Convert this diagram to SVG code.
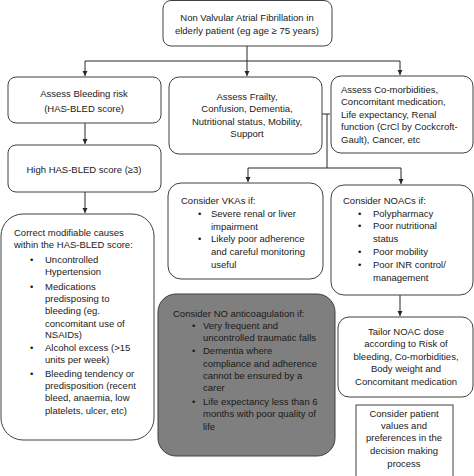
<svg xmlns="http://www.w3.org/2000/svg" width="474" height="476" viewBox="0 0 474 476">
<defs>
<marker id="ah" markerWidth="6" markerHeight="6" refX="5" refY="3" orient="auto" markerUnits="userSpaceOnUse">
<path d="M0,0.5 L5,3 L0,5.5 Z" fill="#262626"/>
</marker>
<style>
.box{fill:#fff;stroke:#404040;stroke-width:1}
.grey{fill:#7f7f7f;stroke:#404040;stroke-width:1}
.t{font-family:"Liberation Sans",Arial,sans-serif;font-size:9.5px;fill:#1a1a1a}
.c{text-anchor:middle}
.ln{fill:none;stroke:#262626;stroke-width:1}
</style>
</defs>
<rect width="474" height="476" fill="#fff"/>
<g id="connectors">
<path class="ln" d="M247,46 V76" marker-end="url(#ah)"/>
<path class="ln" d="M85,61 H400"/>
<path class="ln" d="M85,61 V76" marker-end="url(#ah)"/>
<path class="ln" d="M400,61 V75" marker-end="url(#ah)"/>
<path class="ln" d="M85,123 V144" marker-end="url(#ah)"/>
<path class="ln" d="M85,192 V213" marker-end="url(#ah)"/>
<path class="ln" d="M322,114 H330 M327,114 V168 M248,168 H401"/>
<path class="ln" d="M248,168 V182" marker-end="url(#ah)"/>
<path class="ln" d="M401,168 V184" marker-end="url(#ah)"/>
<path class="ln" d="M400,295 V316" marker-end="url(#ah)"/>
</g>
<g id="n_top">
<rect class="box" x="163" y="0.5" width="169" height="45.5" rx="8"/>
<text class="t c" x="247" y="20.5">Non Valvular Atrial Fibrillation in</text>
<text class="t c" x="247" y="33.5">elderly patient (eg age ≥ 75 years)</text>
</g>
<g id="n_bleed">
<rect class="box" x="8" y="77" width="153" height="46" rx="8"/>
<text class="t c" x="84" y="96.5">Assess Bleeding risk</text>
<text class="t c" x="84" y="111.5">(HAS-BLED score)</text>
</g>
<g id="n_frailty">
<rect class="box" x="169" y="77" width="153" height="77" rx="10"/>
<text class="t c" x="247" y="99.5">Assess Frailty,</text>
<text class="t c" x="247" y="112">Confusion, Dementia,</text>
<text class="t c" x="247" y="124.5">Nutritional status, Mobility,</text>
<text class="t c" x="247" y="137">Support</text>
</g>
<g id="n_comorb">
<rect class="box" x="331" y="76" width="142" height="77" rx="10"/>
<text class="t" x="341" y="92.5">Assess Co-morbidities,</text>
<text class="t" x="341" y="105">Concomitant medication,</text>
<text class="t" x="341" y="117.5">Life expectancy, Renal</text>
<text class="t" x="341" y="130">function (CrCl by Cockcroft-</text>
<text class="t" x="341" y="142.5">Gault), Cancer, etc</text>
</g>
<g id="n_high">
<rect class="box" x="8" y="145" width="153" height="47" rx="8"/>
<text class="t c" x="84" y="172.5">High HAS-BLED score (≥3)</text>
</g>
<g id="n_correct">
<rect class="box" x="1" y="214" width="153" height="226" rx="22"/>
<text class="t" x="14" y="235.5">Correct modifiable causes</text>
<text class="t" x="14" y="248">within the HAS-BLED score:</text>
<text class="t" x="30" y="262.5">•</text>
<text class="t" x="45" y="262.5">Uncontrolled</text>
<text class="t" x="45" y="274.5">Hypertension</text>
<text class="t" x="30" y="289.5">•</text>
<text class="t" x="45" y="289.5">Medications</text>
<text class="t" x="45" y="301.5">predisposing to</text>
<text class="t" x="45" y="314">bleeding (eg.</text>
<text class="t" x="45" y="326.5">concomitant use of</text>
<text class="t" x="45" y="338">NSAIDs)</text>
<text class="t" x="30" y="350.5">•</text>
<text class="t" x="45" y="350.5">Alcohol excess (&gt;15</text>
<text class="t" x="45" y="363">units per week)</text>
<text class="t" x="30" y="376.5">•</text>
<text class="t" x="45" y="376.5">Bleeding tendency or</text>
<text class="t" x="45" y="388.5">predisposition (recent</text>
<text class="t" x="45" y="401">bleed, anaemia, low</text>
<text class="t" x="45" y="413.5">platelets, ulcer, etc)</text>
</g>
<g id="n_vka">
<rect class="box" x="168" y="183" width="155" height="96" rx="13"/>
<text class="t" x="181" y="203.5">Consider VKAs if:</text>
<text class="t" x="198" y="216.5">•</text>
<text class="t" x="211" y="216.5">Severe renal or liver</text>
<text class="t" x="211" y="229.5">impairment</text>
<text class="t" x="198" y="241.5">•</text>
<text class="t" x="211" y="241.5">Likely poor adherence</text>
<text class="t" x="211" y="254.5">and careful monitoring</text>
<text class="t" x="211" y="267.5">useful</text>
</g>
<g id="n_noac">
<rect class="box" x="331" y="185" width="142" height="110" rx="13"/>
<text class="t" x="343" y="203.5">Consider NOACs if:</text>
<text class="t" x="358" y="216.5">•</text>
<text class="t" x="373" y="216.5">Polypharmacy</text>
<text class="t" x="358" y="228.5">•</text>
<text class="t" x="373" y="228.5">Poor nutritional</text>
<text class="t" x="373" y="241.5">status</text>
<text class="t" x="358" y="254.5">•</text>
<text class="t" x="373" y="254.5">Poor mobility</text>
<text class="t" x="358" y="267.5">•</text>
<text class="t" x="373" y="267.5">Poor INR control/</text>
<text class="t" x="373" y="280.5">management</text>
</g>
<g id="n_noanti">
<rect class="grey" x="158" y="294" width="177" height="162" rx="18"/>
<text class="t" x="173" y="316.5">Consider NO anticoagulation if:</text>
<text class="t" x="192" y="328.5">•</text>
<text class="t" x="203" y="328.5">Very frequent and</text>
<text class="t" x="203" y="340.5">uncontrolled traumatic falls</text>
<text class="t" x="192" y="353.5">•</text>
<text class="t" x="203" y="353.5">Dementia where</text>
<text class="t" x="203" y="366.5">compliance and adherence</text>
<text class="t" x="203" y="378.5">cannot be ensured by a</text>
<text class="t" x="203" y="390.5">carer</text>
<text class="t" x="192" y="404.5">•</text>
<text class="t" x="203" y="404.5">Life expectancy less than 6</text>
<text class="t" x="203" y="416.5">months with poor quality of</text>
<text class="t" x="203" y="429.5">life</text>
</g>
<g id="n_tailor">
<rect class="box" x="338" y="317" width="135" height="80" rx="11"/>
<text class="t c" x="406" y="334.5">Tailor NOAC dose</text>
<text class="t c" x="406" y="347">according to Risk of</text>
<text class="t c" x="406" y="359.5">bleeding, Co-morbidities,</text>
<text class="t c" x="406" y="372">Body weight and</text>
<text class="t c" x="406" y="384.5">Concomitant medication</text>
</g>
<g id="n_patient">
<rect class="box" x="356" y="405" width="97" height="76"/>
<text class="t c" x="404" y="416.5">Consider patient</text>
<text class="t c" x="404" y="428.5">values and</text>
<text class="t c" x="404" y="440.5">preferences in the</text>
<text class="t c" x="404" y="453.5">decision making</text>
<text class="t c" x="404" y="466.5">process</text>
</g>
</svg>
